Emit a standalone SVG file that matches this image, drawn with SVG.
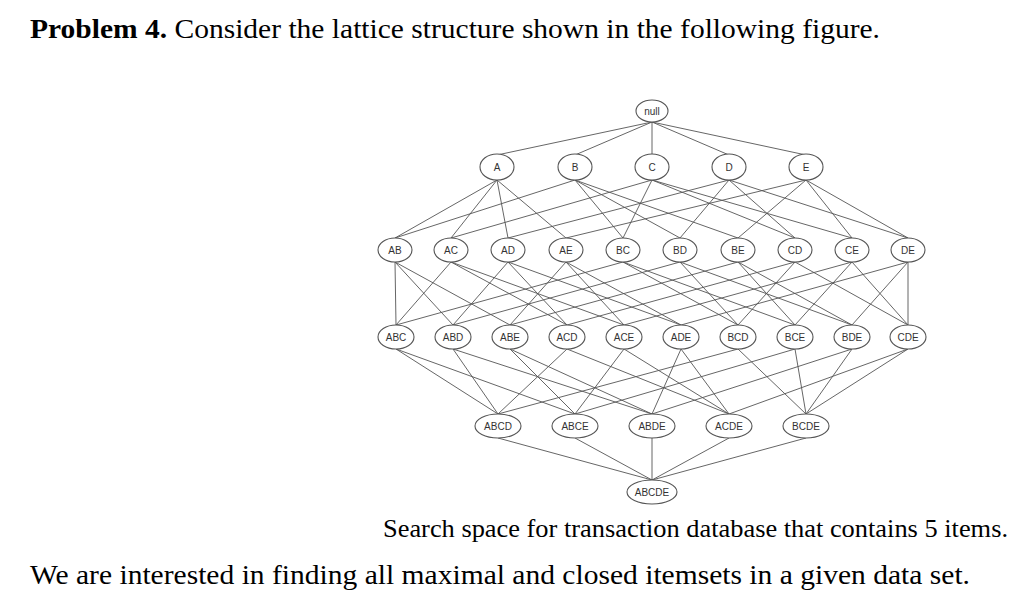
<svg xmlns="http://www.w3.org/2000/svg" width="1016" height="593" viewBox="0 0 1016 593">
<style>
.n ellipse{fill:#fff;stroke:#555;stroke-width:1.1}
.n text{font-family:"Liberation Sans",Arial,sans-serif;font-size:10px;fill:#333;text-anchor:middle;dominant-baseline:central}
#edges line{stroke:#555;stroke-width:0.9}
.t{font-family:"Liberation Serif","Times New Roman",serif;fill:#000}
</style>
<rect width="1016" height="593" fill="#fff"/>
<text class="t" x="30" y="38" font-size="28" textLength="850" lengthAdjust="spacingAndGlyphs"><tspan font-weight="bold">Problem 4.</tspan> Consider the lattice structure shown in the following figure.</text>
<text class="t" x="383" y="537" font-size="25" textLength="625" lengthAdjust="spacingAndGlyphs">Search space for transaction database that contains 5 items.</text>
<text class="t" x="30" y="584" font-size="28" textLength="940" lengthAdjust="spacingAndGlyphs">We are interested in finding all maximal and closed itemsets in a given data set.</text>
<g id="edges">
<line x1="652" y1="122" x2="497" y2="155"/><line x1="652" y1="122" x2="575" y2="155"/><line x1="652" y1="122" x2="652" y2="155"/><line x1="652" y1="122" x2="729" y2="155"/><line x1="652" y1="122" x2="806" y2="155"/>
<line x1="497" y1="180" x2="395" y2="238"/><line x1="497" y1="180" x2="451" y2="238"/><line x1="497" y1="180" x2="508" y2="238"/><line x1="497" y1="180" x2="566" y2="238"/>
<line x1="575" y1="180" x2="395" y2="238"/><line x1="575" y1="180" x2="623" y2="238"/><line x1="575" y1="180" x2="680" y2="238"/><line x1="575" y1="180" x2="738" y2="238"/>
<line x1="652" y1="180" x2="451" y2="238"/><line x1="652" y1="180" x2="623" y2="238"/><line x1="652" y1="180" x2="795" y2="238"/><line x1="652" y1="180" x2="852" y2="238"/>
<line x1="729" y1="180" x2="508" y2="238"/><line x1="729" y1="180" x2="680" y2="238"/><line x1="729" y1="180" x2="795" y2="238"/><line x1="729" y1="180" x2="908" y2="238"/>
<line x1="806" y1="180" x2="566" y2="238"/><line x1="806" y1="180" x2="738" y2="238"/><line x1="806" y1="180" x2="852" y2="238"/><line x1="806" y1="180" x2="908" y2="238"/>
<line x1="395" y1="262" x2="396" y2="325"/><line x1="395" y1="262" x2="453" y2="325"/><line x1="395" y1="262" x2="510" y2="325"/>
<line x1="451" y1="262" x2="396" y2="325"/><line x1="451" y1="262" x2="567" y2="325"/><line x1="451" y1="262" x2="624" y2="325"/>
<line x1="508" y1="262" x2="453" y2="325"/><line x1="508" y1="262" x2="567" y2="325"/><line x1="508" y1="262" x2="681" y2="325"/>
<line x1="566" y1="262" x2="510" y2="325"/><line x1="566" y1="262" x2="624" y2="325"/><line x1="566" y1="262" x2="681" y2="325"/>
<line x1="623" y1="262" x2="396" y2="325"/><line x1="623" y1="262" x2="738" y2="325"/><line x1="623" y1="262" x2="795" y2="325"/>
<line x1="680" y1="262" x2="453" y2="325"/><line x1="680" y1="262" x2="738" y2="325"/><line x1="680" y1="262" x2="852" y2="325"/>
<line x1="738" y1="262" x2="510" y2="325"/><line x1="738" y1="262" x2="795" y2="325"/><line x1="738" y1="262" x2="852" y2="325"/>
<line x1="795" y1="262" x2="567" y2="325"/><line x1="795" y1="262" x2="738" y2="325"/><line x1="795" y1="262" x2="908" y2="325"/>
<line x1="852" y1="262" x2="624" y2="325"/><line x1="852" y1="262" x2="795" y2="325"/><line x1="852" y1="262" x2="908" y2="325"/>
<line x1="908" y1="262" x2="681" y2="325"/><line x1="908" y1="262" x2="852" y2="325"/><line x1="908" y1="262" x2="908" y2="325"/>
<line x1="396" y1="349" x2="498" y2="414"/><line x1="396" y1="349" x2="575" y2="414"/>
<line x1="453" y1="349" x2="498" y2="414"/><line x1="453" y1="349" x2="652" y2="414"/>
<line x1="510" y1="349" x2="575" y2="414"/><line x1="510" y1="349" x2="652" y2="414"/>
<line x1="567" y1="349" x2="498" y2="414"/><line x1="567" y1="349" x2="729" y2="414"/>
<line x1="624" y1="349" x2="575" y2="414"/><line x1="624" y1="349" x2="729" y2="414"/>
<line x1="681" y1="349" x2="652" y2="414"/><line x1="681" y1="349" x2="729" y2="414"/>
<line x1="738" y1="349" x2="498" y2="414"/><line x1="738" y1="349" x2="806" y2="414"/>
<line x1="795" y1="349" x2="575" y2="414"/><line x1="795" y1="349" x2="806" y2="414"/>
<line x1="852" y1="349" x2="652" y2="414"/><line x1="852" y1="349" x2="806" y2="414"/>
<line x1="908" y1="349" x2="729" y2="414"/><line x1="908" y1="349" x2="806" y2="414"/>
<line x1="498" y1="438" x2="652" y2="480"/><line x1="575" y1="438" x2="652" y2="480"/><line x1="652" y1="438" x2="652" y2="480"/><line x1="729" y1="438" x2="652" y2="480"/><line x1="806" y1="438" x2="652" y2="480"/>
</g>
<g id="n-null" class="n"><ellipse cx="652" cy="111" rx="16" ry="11"/><text x="652" y="111">null</text></g>
<g id="n-A" class="n"><ellipse cx="497" cy="167" rx="17" ry="13"/><text x="497" y="167">A</text></g>
<g id="n-B" class="n"><ellipse cx="575" cy="167" rx="17" ry="13"/><text x="575" y="167">B</text></g>
<g id="n-C" class="n"><ellipse cx="652" cy="167" rx="17" ry="13"/><text x="652" y="167">C</text></g>
<g id="n-D" class="n"><ellipse cx="729" cy="167" rx="17" ry="13"/><text x="729" y="167">D</text></g>
<g id="n-E" class="n"><ellipse cx="806" cy="167" rx="17" ry="13"/><text x="806" y="167">E</text></g>
<g id="n-AB" class="n"><ellipse cx="395" cy="250" rx="17" ry="12"/><text x="395" y="250">AB</text></g>
<g id="n-AC" class="n"><ellipse cx="451" cy="250" rx="17" ry="12"/><text x="451" y="250">AC</text></g>
<g id="n-AD" class="n"><ellipse cx="508" cy="250" rx="17" ry="12"/><text x="508" y="250">AD</text></g>
<g id="n-AE" class="n"><ellipse cx="566" cy="250" rx="17" ry="12"/><text x="566" y="250">AE</text></g>
<g id="n-BC" class="n"><ellipse cx="623" cy="250" rx="17" ry="12"/><text x="623" y="250">BC</text></g>
<g id="n-BD" class="n"><ellipse cx="680" cy="250" rx="17" ry="12"/><text x="680" y="250">BD</text></g>
<g id="n-BE" class="n"><ellipse cx="738" cy="250" rx="17" ry="12"/><text x="738" y="250">BE</text></g>
<g id="n-CD" class="n"><ellipse cx="795" cy="250" rx="17" ry="12"/><text x="795" y="250">CD</text></g>
<g id="n-CE" class="n"><ellipse cx="852" cy="250" rx="17" ry="12"/><text x="852" y="250">CE</text></g>
<g id="n-DE" class="n"><ellipse cx="908" cy="250" rx="17" ry="12"/><text x="908" y="250">DE</text></g>
<g id="n-ABC" class="n"><ellipse cx="396" cy="337" rx="18" ry="12"/><text x="396" y="337">ABC</text></g>
<g id="n-ABD" class="n"><ellipse cx="453" cy="337" rx="18" ry="12"/><text x="453" y="337">ABD</text></g>
<g id="n-ABE" class="n"><ellipse cx="510" cy="337" rx="18" ry="12"/><text x="510" y="337">ABE</text></g>
<g id="n-ACD" class="n"><ellipse cx="567" cy="337" rx="18" ry="12"/><text x="567" y="337">ACD</text></g>
<g id="n-ACE" class="n"><ellipse cx="624" cy="337" rx="18" ry="12"/><text x="624" y="337">ACE</text></g>
<g id="n-ADE" class="n"><ellipse cx="681" cy="337" rx="18" ry="12"/><text x="681" y="337">ADE</text></g>
<g id="n-BCD" class="n"><ellipse cx="738" cy="337" rx="18" ry="12"/><text x="738" y="337">BCD</text></g>
<g id="n-BCE" class="n"><ellipse cx="795" cy="337" rx="18" ry="12"/><text x="795" y="337">BCE</text></g>
<g id="n-BDE" class="n"><ellipse cx="852" cy="337" rx="18" ry="12"/><text x="852" y="337">BDE</text></g>
<g id="n-CDE" class="n"><ellipse cx="908" cy="337" rx="18" ry="12"/><text x="908" y="337">CDE</text></g>
<g id="n-ABCD" class="n"><ellipse cx="498" cy="426" rx="23" ry="12"/><text x="498" y="426">ABCD</text></g>
<g id="n-ABCE" class="n"><ellipse cx="575" cy="426" rx="23" ry="12"/><text x="575" y="426">ABCE</text></g>
<g id="n-ABDE" class="n"><ellipse cx="652" cy="426" rx="23" ry="12"/><text x="652" y="426">ABDE</text></g>
<g id="n-ACDE" class="n"><ellipse cx="729" cy="426" rx="23" ry="12"/><text x="729" y="426">ACDE</text></g>
<g id="n-BCDE" class="n"><ellipse cx="806" cy="426" rx="23" ry="12"/><text x="806" y="426">BCDE</text></g>
<g id="n-ABCDE" class="n"><ellipse cx="652" cy="492" rx="25" ry="12"/><text x="652" y="492">ABCDE</text></g>
</svg>
